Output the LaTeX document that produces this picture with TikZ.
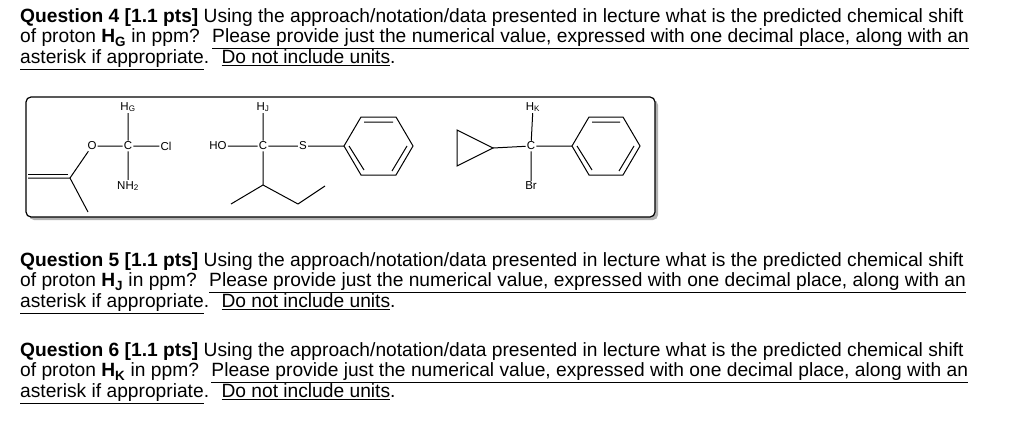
\documentclass[tikz,border=0pt]{standalone}
\usepackage{fontspec}
\setmainfont{Liberation Sans}
\begin{document}
\begin{tikzpicture}[x=1pt,y=-1pt,
  q/.style={anchor=west,inner sep=0pt,font=\fontsize{19.2}{21}\selectfont},
  atm/.style={inner sep=1pt,font=\fontsize{11.5}{12}\selectfont},
  bd/.style={line width=1pt}]
\useasboundingbox (0,0) rectangle (1024,428);
% questions
\node[q] (q4a) at (20,18) {\textbf{Question 4 [1.1 pts]} Using the approach/notation/data presented in lecture what is the predicted chemical shift};
\node[q] (q4b) at (20,39) {of proton \textbf{H\textsubscript{G}} in ppm? \ \underline{Please provide just the numerical value, expressed with one decimal place, along with an}};
\node[q] (q4c) at (20,60) {\underline{asterisk if appropriate}. \ \underline{Do not include units}.};
\node[q] (q5a) at (20,262) {\textbf{Question 5 [1.1 pts]} Using the approach/notation/data presented in lecture what is the predicted chemical shift};
\node[q] (q5b) at (20,283) {of proton \textbf{H\textsubscript{J}} in ppm? \ \underline{Please provide just the numerical value, expressed with one decimal place, along with an}};
\node[q] (q5c) at (20,304) {\underline{asterisk if appropriate}. \ \underline{Do not include units}.};
\node[q] (q6a) at (20,352) {\textbf{Question 6 [1.1 pts]} Using the approach/notation/data presented in lecture what is the predicted chemical shift};
\node[q] (q6b) at (20,373) {of proton \textbf{H\textsubscript{K}} in ppm? \ \underline{Please provide just the numerical value, expressed with one decimal place, along with an}};
\node[q] (q6c) at (20,394) {\underline{asterisk if appropriate}. \ \underline{Do not include units}.};
% box
\fill[gray!60,rounded corners=5pt] (29,100) rectangle (658,220);
\draw[line width=1.2pt,fill=white,rounded corners=5pt] (26,97) rectangle (655,217);
% molecule 1
\node[atm] (c1) at (128,146) {C};
\node[atm] (h1) at (128,107) {H\textsubscript{G}};
\node[atm] (o1) at (92,146) {O};
\node[atm] (cl) at (166,146) {Cl};
\node[atm] (n1) at (128,186) {NH\textsubscript{2}};
\coordinate (v1) at (70,178);
\coordinate (v2) at (28,178);
\coordinate (v3) at (88,212);
\draw[bd] (c1)--(h1) (c1)--(o1) (c1)--(cl) (c1)--(n1) (o1)--(v1) (v1)--(v3) (v1)--(v2);
\draw[bd] (68,174) -- (28,174);
% molecule 2
\node[atm] (c2) at (263,146) {C};
\node[atm] (h2) at (263,107) {H\textsubscript{J}};
\node[atm] (ho) at (218,146) {HO};
\node[atm] (s2) at (303,146) {S};
\coordinate (b1) at (344,146); \coordinate (b2) at (361,117); \coordinate (b3) at (396,117);
\coordinate (b4) at (413,146); \coordinate (b5) at (396,175); \coordinate (b6) at (361,175);
\coordinate (d1) at (263,185); \coordinate (d2) at (231,204); \coordinate (d3) at (298,204); \coordinate (d4) at (325,186);
\draw[bd] (c2)--(h2) (c2)--(ho) (c2)--(s2) (s2)--(b1) (c2)--(d1) (d1)--(d2) (d1)--(d3) (d3)--(d4);
\draw[bd] (b1)--(b2)--(b3)--(b4)--(b5)--(b6)--cycle;
\draw[bd] (364,122)--(393,122) (407,146)--(392,171) (364,170)--(349,146);
% molecule 3
\coordinate (t1) at (457,130); \coordinate (t2) at (457,166); \coordinate (t3) at (493,148);
\node[atm] (c3) at (531,146) {C};
\node[atm] (h3) at (533,107) {H\textsubscript{K}};
\node[atm] (br) at (531,186) {Br};
\coordinate (p1) at (572,146); \coordinate (p2) at (589,117); \coordinate (p3) at (623,117);
\coordinate (p4) at (640,146); \coordinate (p5) at (623,175); \coordinate (p6) at (589,175);
\draw[bd] (t1)--(t2)--(t3)--cycle;
\draw[bd] (t3)--(c3) (c3)--(h3) (c3)--(br) (c3)--(p1);
\draw[bd] (p1)--(p2)--(p3)--(p4)--(p5)--(p6)--cycle;
\draw[bd] (592,122)--(620,122) (634,146)--(619,171) (592,170)--(577,146);
\end{tikzpicture}
\end{document}
